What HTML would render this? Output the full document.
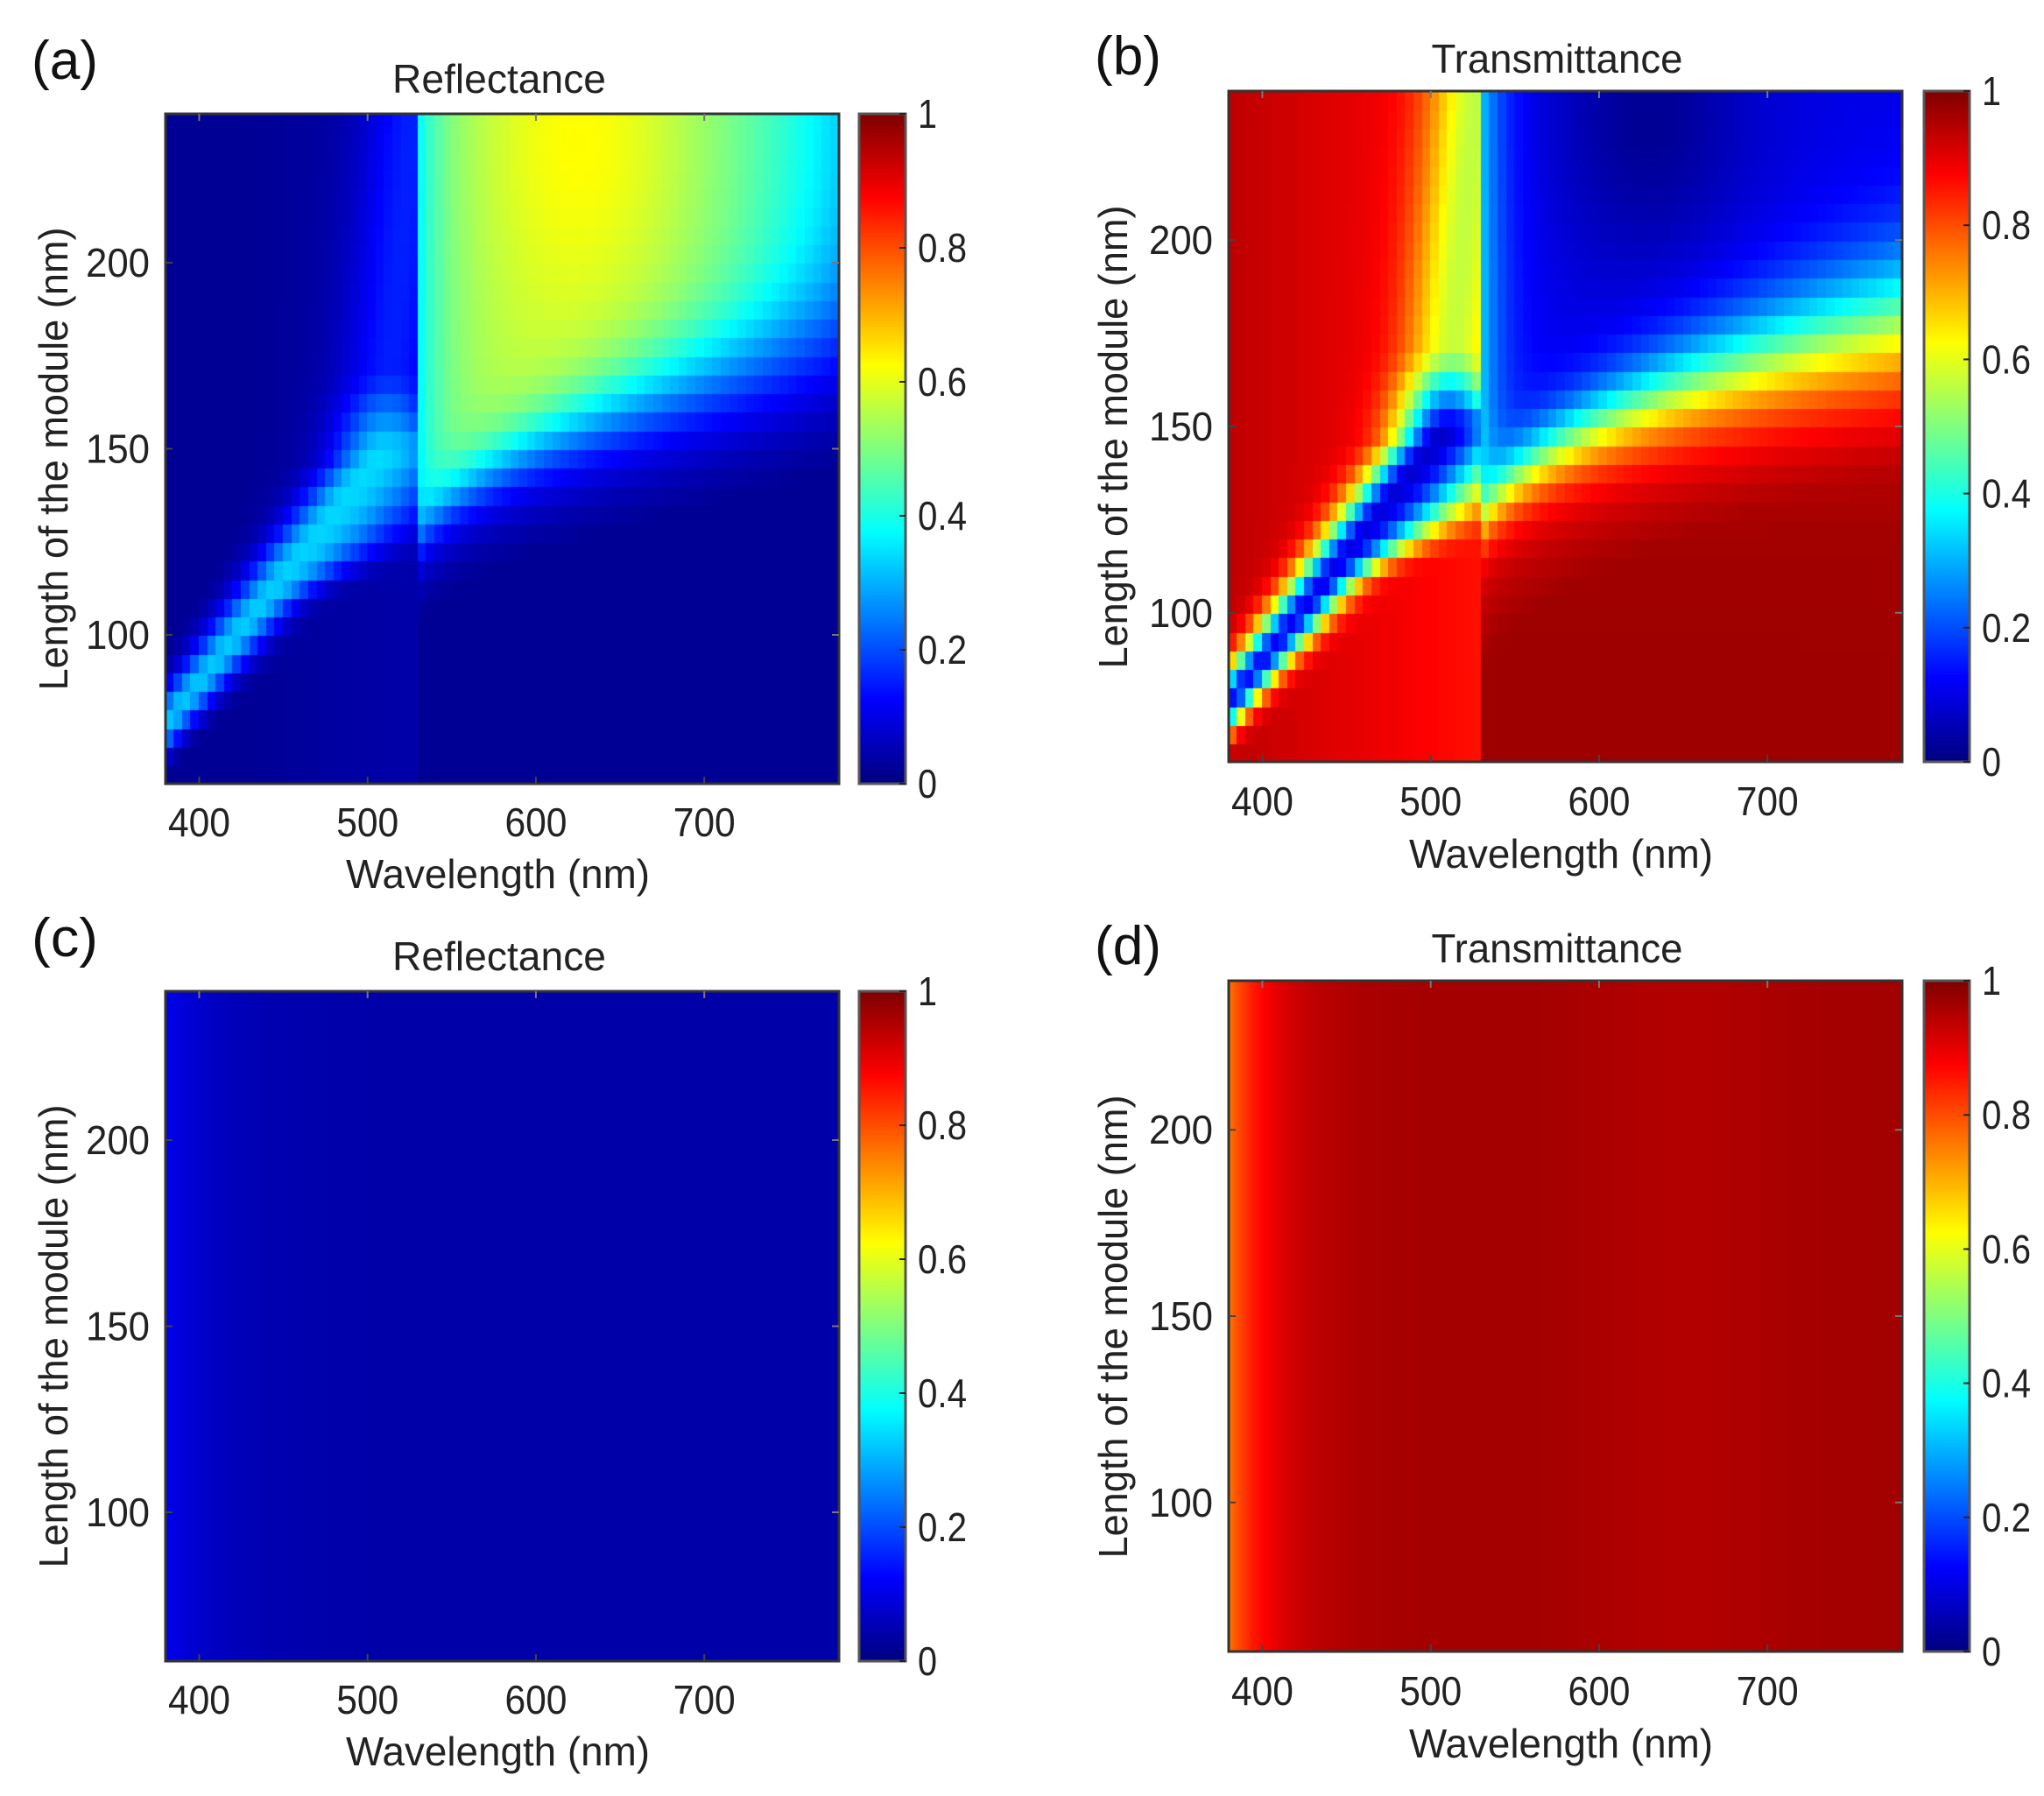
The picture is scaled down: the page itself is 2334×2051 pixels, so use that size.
<!DOCTYPE html>
<html><head><meta charset="utf-8">
<style>
html,body{margin:0;padding:0;background:#fff;}
#wrap{position:relative;width:2334px;height:2051px;overflow:hidden;background:#fff;}
canvas{position:absolute;left:0;top:0;}
svg{position:absolute;left:0;top:0;}
text{font-family:"Liberation Sans",Arial,sans-serif;fill:#222;}
</style></head>
<body><div id="wrap">
<canvas id="cv" width="2334" height="2051"></canvas>
<svg id="sv" width="2334" height="2051" xmlns="http://www.w3.org/2000/svg"></svg>
</div>
<script>
function cl(v,a,b){return Math.max(a,Math.min(b,v));}
function jet(x){x=cl(x,0,1);
 var r=cl(1.5-Math.abs(4*x-3),0,1),g=cl(1.5-Math.abs(4*x-2),0,1),b=cl(1.5-Math.abs(4*x-1),0,1);
 return 'rgb('+Math.round(r*255)+','+Math.round(g*255)+','+Math.round(b*255)+')';}
function Tb(l,L){
 var T;
 if(l<528){
  var c=L<=150?378+(L-75)*1.75:509+(L-150)*0.2;
  var w=L<=150?15+(L-75)*0.15:28;
  var depth=L<=150?0.8:0.8-0.5*Math.min(1,(L-150)/20);
  var base=0.94-0.08*(l-380)/148;
  var ww=w;
  if(l>c){ww=w*(1+1.0*Math.sin(Math.PI*cl((L-110)/50,0,1)));}
  T=base-depth*Math.exp(-Math.pow((l-c)/ww,2));
 } else {
  var Lm=118+62*Math.sqrt((l-528)/252);
  var s=5+7*(l-528)/252;
  var red=0.9+0.07*cl((Lm-L)/40,0,1);
  var blue=0.1+0.28*Math.exp(-(l-528)/14)-0.08*Math.exp(-Math.pow((l-630)/60,2)-Math.pow((L-232)/40,2));
  var sig=1/(1+Math.exp(-(L-Lm)/s));
  T=red*(1-sig)+blue*sig;
 }
 return T;
}
function Ra(l,L){
 var T=Tb(l,L);
 var f=l<528?0.38:0.66-0.28*Math.pow((l-620)/160,2);
 return cl((1-T-0.03)*f,0.02,1);
}
function Rc(l,L){return 0.04+0.07*Math.exp(-(l-380)/30);}
function Td(l,L){return 0.965-0.21*Math.exp(-(l-380)/25)-0.015*Math.exp(-Math.pow((l-650)/60,2));}

var ctx=document.getElementById('cv').getContext('2d');
var sv=document.getElementById('sv');
var NS='http://www.w3.org/2000/svg';
function el(tag,attrs,txt){var e=document.createElementNS(NS,tag);for(var k in attrs)e.setAttribute(k,attrs[k]);if(txt!==undefined)e.textContent=txt;sv.appendChild(e);return e;}

function panel(P){
 var px=P.x,py=P.y,pw=P.w,ph=P.h;
 var nc=P.smooth?400:80, nr=P.smooth?1:36;
 for(var j=0;j<nc;j++){
  for(var i=0;i<nr;i++){
   var l=380+(j+0.5)*400/nc, L=60+(i+0.5)*180/nr;
   ctx.fillStyle=jet(P.f(l,L));
   var x0=px+j*pw/nc, x1=px+(j+1)*pw/nc;
   var y1=py+ph-i*ph/nr, y0=py+ph-(i+1)*ph/nr;
   ctx.fillRect(Math.floor(x0),Math.floor(y0),Math.ceil(x1)-Math.floor(x0)+1,Math.ceil(y1)-Math.floor(y0)+1);
  }
 }
 var g=ctx.createLinearGradient(0,py+ph,0,py);
 for(var k=0;k<=64;k++){g.addColorStop(k/64,jet(k/64));}
 ctx.fillStyle=g;ctx.fillRect(P.cx,py,P.cw,ph);
 el('rect',{x:px,y:py,width:pw,height:ph,fill:'none',stroke:'#333','stroke-width':3});
 el('rect',{x:P.cx,y:py,width:P.cw,height:ph,fill:'none',stroke:'#555','stroke-width':3});
 [400,500,600,700].forEach(function(v){
  var x=px+(v-380)/400*pw;
  el('line',{x1:x,y1:py+ph,x2:x,y2:py+ph-8,stroke:'#444','stroke-width':2});
  el('line',{x1:x,y1:py,x2:x,y2:py+8,stroke:'#777','stroke-width':2});
  el('text',{x:x,y:py+ph+P.xtb,'font-size':46,'text-anchor':'middle',textLength:71,lengthAdjust:'spacingAndGlyphs'},String(v));
 });
 [100,150,200].forEach(function(v){
  var y=py+ph-(v-60)/180*ph;
  el('line',{x1:px,y1:y,x2:px+8,y2:y,stroke:'#444','stroke-width':2});
  el('line',{x1:px+pw,y1:y,x2:px+pw-8,y2:y,stroke:'#777','stroke-width':2});
  el('text',{x:px-18,y:y+16,'font-size':46,'text-anchor':'end',textLength:73,lengthAdjust:'spacingAndGlyphs'},String(v));
 });
 ['0','0.2','0.4','0.6','0.8','1'].forEach(function(t,k){
  var y=py+ph-k*0.2*ph;
  el('line',{x1:P.cx+P.cw,y1:y,x2:P.cx+P.cw-7,y2:y,stroke:'#222','stroke-width':2});
  var w=t.length==1?22:56;
  el('text',{x:P.cx+P.cw+14,y:y+16,'font-size':46,textLength:w,lengthAdjust:'spacingAndGlyphs'},t);
 });
 el('text',{x:px+pw/2-5,y:py+ph+P.xlb,'font-size':46,'text-anchor':'middle',textLength:347,lengthAdjust:'spacingAndGlyphs'},'Wavelength (nm)');
 el('text',{x:0,y:0,'font-size':46,'text-anchor':'middle',textLength:529,lengthAdjust:'spacingAndGlyphs',transform:'translate('+P.ylx+','+P.yly+') rotate(-90)'},'Length of the module (nm)');
 el('text',{x:P.tx,y:P.ty,'font-size':46,'text-anchor':'middle',textLength:P.tw,lengthAdjust:'spacingAndGlyphs'},P.title);
 el('text',{x:P.lx,y:P.ly,'font-size':62,textLength:76,lengthAdjust:'spacingAndGlyphs',style:'fill:#111'},P.lab);
}
var A={x:189,y:130,w:769,h:765,cx:981,cw:53,xtb:60,xlb:119,ylx:77,yly:524,tx:570,ty:106,tw:244,title:'Reflectance',lx:36,ly:90,lab:'(a)',f:Ra};
var B={x:1403,y:104,w:769,h:766,cx:2197,cw:52,xtb:61,xlb:121,ylx:1287,yly:499,tx:1778,ty:83,tw:287,title:'Transmittance',lx:1250,ly:85,lab:'(b)',f:Tb};
panel(A);panel(B);
var C=Object.assign({},A,{y:A.y+1002,yly:A.yly+1002,ty:A.ty+1002,ly:A.ly+1002,lab:'(c)',f:Rc,smooth:true});
var D=Object.assign({},B,{y:B.y+1016,yly:B.yly+1016,ty:B.ty+1016,ly:B.ly+1016,lab:'(d)',f:Td,smooth:true});
panel(C);panel(D);
</script>
</body></html>
